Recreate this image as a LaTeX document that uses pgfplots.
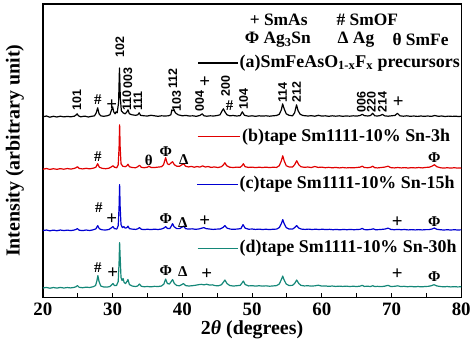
\documentclass[border=0pt]{standalone}
\usepackage{pgfplots}
\pgfplotsset{compat=1.18}
\usepackage{fontspec}
\setmainfont{Liberation Serif}
\newfontfamily\hklfont{Liberation Sans}
\definecolor{cA}{RGB}{0,0,0}
\definecolor{cB}{RGB}{225,0,0}
\definecolor{cC}{RGB}{0,0,210}
\definecolor{cD}{RGB}{20,135,120}
\newcommand{\labf}{\fontsize{20}{22}\selectfont\bfseries}
\newcommand{\tickf}{\fontsize{19}{21}\selectfont\bfseries}
\newcommand{\legf}{\fontsize{18}{20}\selectfont\bfseries}
\newcommand{\keyf}{\fontsize{17.5}{19}\selectfont\bfseries}
\newcommand{\mkf}{\fontsize{15}{16}\selectfont\bfseries}
\newcommand{\plusf}{\fontsize{19}{20}\selectfont\bfseries}
\begin{document}
\begin{tikzpicture}
\begin{axis}[name=ax,
  scale only axis, width=419bp, height=294bp,
  xmin=20, xmax=80, ymin=0, ymax=294,
  axis line style={line width=1.4pt},
  xtick={20,30,...,80}, minor x tick num=1,
  major tick length=5bp, minor tick length=4.5bp,
  tick style={line width=1.1pt, black},
  xtick pos=bottom, ytick=\empty,
  /pgf/number format/assume math mode=true,
  xticklabel style={font=\tickf, yshift=-2bp},
  xlabel={2\textit{θ} (degrees)},
  xlabel style={font=\labf, yshift=2bp},
  ylabel={Intensity (arbitrary unit)},
  every axis y label/.style={at={(axis description cs:-0.067,0.5)},rotate=90,anchor=center,font=\labf},
  clip=false,
  every axis plot/.append style={line width=1.2pt, line join=round},
]
\addplot[cA] coordinates {(20,181)(20.5,181.8)(21,180.6)(21.5,181.5)(22,180.8)(22.5,181.6)(23,180.9)(23.5,181.4)(24,181)(24.5,181.6)(24.7,182.5)(24.9,184)(25.1,182)(25.4,181)(26,181.7)(26.5,180.8)(27,181.5)(27.4,182)(27.65,185)(27.85,190)(28.05,184)(28.3,182)(28.7,181.5)(29.2,182)(29.6,183)(29.85,188)(30.0,191)(30.15,186)(30.35,184)(30.5,186)(30.65,185)(30.85,195)(30.98,230)(31.1,200)(31.25,187)(31.5,185)(31.8,184)(32.05,186)(32.2,188)(32.4,184)(32.8,183)(33.3,182.5)(33.6,183)(33.8,185)(34,182.5)(34.5,182)(35,181.8)(35.5,182.5)(36,182)(36.5,181.5)(37,182)(37.5,181.8)(38,182)(38.35,183)(38.5,188)(38.65,187)(38.8,188)(39,185)(39.4,183)(40,182)(40.5,182.4)(41,181.8)(41.5,182)(42,181.5)(42.5,182.3)(42.85,184)(43.1,182)(43.5,181.6)(44,182)(44.5,181.8)(45,182.3)(45.4,183)(45.7,187)(45.9,189)(46.1,186)(46.4,183)(46.8,182)(47.3,182.3)(47.8,181.8)(48.3,182.2)(48.6,186)(48.9,182.5)(49.5,181.6)(50,182)(50.5,181.5)(51,182)(51.5,181.7)(52,182)(52.5,181.6)(53,182)(53.5,182.3)(53.9,183.5)(54.2,188)(54.38,194)(54.6,189)(54.9,184)(55.3,182.5)(55.8,182)(56.1,185)(56.38,193)(56.6,187)(56.9,183.5)(57.3,182.3)(58,181.8)(58.5,182.1)(59,181.6)(59.5,182.5)(60,181.7)(60.5,182)(61,181.5)(61.5,182)(62,181.6)(62.5,182)(63,181.5)(63.5,181.9)(64,181.6)(64.5,182)(65,181.7)(65.5,182.3)(65.8,183.5)(66.1,182.2)(66.6,181.8)(67.0,182.3)(67.3,184.5)(67.6,182)(68,181.8)(68.4,182.3)(68.7,183.5)(69,182)(69.5,181.6)(70,182)(70.5,182.4)(70.85,184.5)(71.2,182)(71.7,181.6)(72.2,182)(72.7,181.5)(73.2,181.8)(73.7,181.4)(74.2,181.8)(74.7,181.5)(75.2,181.8)(75.7,181.4)(76.2,182.3)(76.7,181.5)(77.2,181.8)(77.7,181.3)(78.2,181.7)(78.7,181.4)(79.2,181.6)(79.6,181.3)(80,181.5)};
\addplot[cB] coordinates {(20,128.5)(20.5,129.2)(21,128.3)(21.5,129)(22,128.4)(22.5,129.1)(23,128.5)(23.5,129.2)(24,128.6)(24.5,129.3)(24.75,130)(24.95,131)(25.2,129.3)(25.7,128.8)(26.2,129.4)(26.7,128.9)(27.2,129.5)(27.6,130.5)(27.85,134)(28.1,130.5)(28.5,129.4)(29,129)(29.5,129.6)(29.85,131)(30.05,132)(30.25,130.5)(30.6,130)(30.8,133)(30.92,150)(31.0,173)(31.08,150)(31.2,134)(31.45,131.5)(31.8,131)(32.05,132)(32.2,133.5)(32.4,131)(32.8,130.2)(33.3,130)(33.6,131)(33.85,132.5)(34.1,130.5)(34.5,130)(35,130.5)(35.2,131.5)(35.5,130.3)(36,130.2)(36.5,130.6)(37,131)(37.3,133)(37.6,140)(37.85,134)(38.1,133)(38.4,135)(38.6,136)(38.85,133)(39.2,131.5)(39.6,131.5)(39.95,133)(40.2,134)(40.45,131.5)(40.9,130.8)(41.3,131.3)(41.7,130.5)(42.1,131.2)(42.5,130.6)(42.9,131.8)(43.3,130.7)(43.7,131.2)(44.1,130.3)(44.6,130.8)(45.1,130.2)(45.6,131)(45.9,133)(46.1,135)(46.35,132)(46.8,130.5)(47.3,130.2)(47.8,130.6)(48.3,130.4)(48.55,132)(48.75,134)(49,131)(49.5,130.3)(50,130.6)(50.5,130.1)(51,130.5)(51.5,130.2)(52,130.6)(52.5,130.1)(53,130.5)(53.5,130.3)(53.9,132)(54.2,137)(54.4,142)(54.6,137)(54.9,132)(55.3,130.8)(55.8,130.7)(56.1,133)(56.4,137)(56.7,133)(57,131)(57.5,130.4)(58,130.7)(58.5,130.2)(59,131.2)(59.5,130.3)(60,130.6)(60.5,130)(61,130.4)(61.5,129.9)(62,130.3)(62.5,129.8)(63,130.2)(63.5,129.8)(64,130.1)(64.5,129.9)(65,130.2)(65.5,130.6)(65.8,131.5)(66.1,130.2)(66.6,130)(67,130.4)(67.3,131.5)(67.6,130)(68,129.8)(68.5,130.2)(69,130.6)(69.5,131.5)(69.9,130.1)(70.4,129.8)(70.9,130.2)(71.4,129.8)(71.9,130.1)(72.4,129.7)(72.9,130.1)(73.4,129.8)(73.9,130.2)(74.4,129.8)(74.9,130.3)(75.4,130.5)(75.8,131.5)(76.15,133)(76.5,131)(77,130)(77.5,129.6)(78,130)(78.5,129.6)(79,130)(79.5,129.6)(80,129.8)};
\addplot[cC] coordinates {(20,67)(20.5,67.6)(21,66.8)(21.5,67.5)(22,66.9)(22.5,67.6)(23,67)(23.5,67.5)(24,67)(24.5,67.6)(24.75,68.2)(24.95,69)(25.2,67.4)(25.7,67)(26.2,67.6)(26.7,67.1)(27.2,67.8)(27.6,68.8)(27.85,72)(28.1,68.8)(28.5,67.8)(29,67.6)(29.5,68.2)(29.85,70)(30.05,71)(30.25,69)(30.6,68.6)(30.8,72)(30.92,90)(31.0,113)(31.08,90)(31.2,73)(31.4,70)(31.6,71)(31.8,69.5)(32.05,70)(32.2,71.5)(32.4,69)(32.8,68.5)(33.3,68.2)(33.6,68.8)(33.85,70)(34.1,68.4)(34.5,68)(35,68.4)(35.5,68)(36,68.5)(36.5,68.1)(37,68.6)(37.35,69.5)(37.6,71)(37.85,69.2)(38.2,69)(38.45,72)(38.6,74)(38.8,71)(39.2,69)(39.6,69)(39.95,70.5)(40.2,71.5)(40.45,69)(40.9,68.5)(41.4,68.8)(41.9,68.3)(42.4,68.7)(42.8,69.5)(43.1,70)(43.4,69)(43.9,68.6)(44.4,68.2)(44.9,68.5)(45.4,68.6)(45.8,70)(46.1,72)(46.4,69.5)(46.9,68.5)(47.4,68.3)(47.9,68.6)(48.4,69)(48.7,73)(49,69.5)(49.5,68.4)(50,68.6)(50.5,68.2)(51,68.5)(51.5,68.1)(52,68.4)(52.5,68)(53,68.4)(53.5,68.5)(53.9,70)(54.2,74)(54.4,78)(54.6,74)(54.9,70)(55.3,68.6)(55.8,68.5)(56.1,70)(56.4,72)(56.7,69.5)(57.1,68.5)(57.6,68.2)(58.1,68.5)(58.6,68.1)(59.1,68.4)(59.6,68.1)(60.1,68.4)(60.6,68)(61.1,68.3)(61.6,67.9)(62.1,68.2)(62.6,67.8)(63.1,68.2)(63.6,67.9)(64.1,68.2)(64.6,67.9)(65.1,68.1)(65.5,68.3)(65.8,69.2)(66.1,68)(66.6,67.9)(67.1,68.3)(67.4,68.8)(67.7,67.9)(68.2,68)(68.7,68.3)(69.1,68.6)(69.5,69.5)(69.9,68.2)(70.4,67.9)(70.9,68.2)(71.4,67.9)(71.9,68.1)(72.4,67.7)(72.9,68)(73.4,67.7)(73.9,68)(74.4,67.7)(74.9,68)(75.4,68)(75.8,68.6)(76.15,69.6)(76.5,68.3)(77,67.9)(77.5,67.6)(78,67.9)(78.5,67.6)(79,67.9)(79.5,67.6)(80,67.8)};
\addplot[cD] coordinates {(20,9.5)(20.5,10.1)(21,9.3)(21.5,10)(22,9.4)(22.5,10.1)(23,9.5)(23.5,10)(24,9.6)(24.5,10.2)(24.75,10.8)(24.95,12)(25.2,10.2)(25.7,9.8)(26.2,10.4)(26.7,10)(27.2,10.8)(27.55,12)(27.75,17)(27.88,22)(28.05,16)(28.3,11.5)(28.7,10.6)(29.2,10.4)(29.6,11)(29.9,13)(30.05,14)(30.25,12)(30.55,12)(30.8,16)(30.92,35)(31.0,55)(31.08,40)(31.2,20)(31.35,17)(31.5,19)(31.65,15)(31.85,14)(32.05,16)(32.2,18)(32.4,13)(32.8,11.5)(33.3,11)(33.6,11.6)(33.85,13.5)(34.1,11.3)(34.5,10.8)(35,11)(35.5,10.7)(36,11.2)(36.5,11)(37,11.5)(37.35,13.5)(37.6,18.5)(37.85,14)(38.15,13.5)(38.4,16)(38.6,18)(38.85,14)(39.2,12)(39.6,11.8)(39.95,13)(40.15,14)(40.45,12)(40.9,11.5)(41.4,11.8)(41.9,12.3)(42.3,12.8)(42.7,13.2)(43.1,12.7)(43.5,13.3)(43.9,12.4)(44.3,12.7)(44.7,11.9)(45.2,11.8)(45.6,12.8)(45.85,15)(46.1,17.5)(46.4,14)(46.8,12)(47.3,11.5)(47.8,11.8)(48.3,12.2)(48.55,14.5)(48.75,16.5)(49,13)(49.5,11.6)(50,11.9)(50.5,11.4)(51,11.8)(51.5,11.4)(52,11.7)(52.5,11.3)(53,11.6)(53.5,11.9)(53.9,13.5)(54.2,18)(54.4,21.5)(54.6,17.5)(54.9,13.5)(55.3,12)(55.8,12.2)(56.1,14)(56.4,17.5)(56.7,14)(57,12.2)(57.5,11.6)(58,11.8)(58.5,11.4)(59,11.7)(59.5,12.3)(60,11.4)(60.5,11.6)(61,11.2)(61.5,11.5)(62,11.1)(62.5,11.4)(63,11.1)(63.5,11.4)(64,11)(64.5,11.3)(65,11)(65.5,11.4)(65.8,12.2)(66.1,11.1)(66.6,11.3)(67,11)(67.3,11.8)(67.6,11)(68,11.2)(68.5,10.9)(69,11.3)(69.5,12.2)(69.9,11)(70.4,11.2)(70.9,11.7)(71.3,11)(71.8,11.2)(72.3,10.8)(72.8,11.1)(73.3,10.7)(73.8,11)(74.3,10.7)(74.8,11)(75.3,11.2)(75.7,11.8)(76.1,12.8)(76.5,11.6)(77,11)(77.5,10.7)(78,11)(78.5,10.6)(79,10.9)(79.5,10.6)(80,10.8)};
% legend-like labels
\draw[cA, line width=1.3pt] (42.3,235) -- (47.93,235);
\node[anchor=west, inner sep=0, font=\legf] at (48.2,235) {(a)SmFeAsO\textsubscript{1-x}F\textsubscript{x} precursors};
\draw[cB, line width=1.3pt] (42.2,161) -- (48.2,161);
\node[anchor=west, inner sep=0, font=\legf] at (48.55,161) {(b)tape Sm1111-10\% Sn-3h};
\draw[cC, line width=1.3pt] (42.1,113) -- (47.93,113);
\node[anchor=west, inner sep=0, font=\legf] at (48.2,113) {(c)tape Sm1111-10\% Sn-15h};
\draw[cD, line width=1.3pt] (42.2,49) -- (47.93,49);
\node[anchor=west, inner sep=0, font=\legf] at (48.2,49) {(d)tape Sm1111-10\% Sn-30h};
% phase key
\node[anchor=west, inner sep=0, font=\keyf] at (49.64,278) {+ SmAs};
\node[anchor=west, inner sep=0, font=\keyf] at (62.10,278) {\# SmOF};
\node[anchor=west, inner sep=0, font=\keyf] at (48.93,258) {Φ Ag\textsubscript{3}Sn};
\node[anchor=west, inner sep=0, font=\keyf] at (62.25,258) {Δ Ag};
\node[anchor=west, inner sep=0, font=\keyf] at (70.12,258) {θ SmFe};
% hkl labels
\tikzset{hkl/.style={rotate=90, anchor=west, inner sep=0, font=\hklfont\bfseries\fontsize{12.5}{12.5}\selectfont}}
\node[hkl] at (24.87,187) {101};
\node[hkl] at (32.03,187) {110};
\node[hkl] at (32.17,209) {003};
\node[hkl] at (31.03,240) {102};
\node[hkl] at (33.60,187) {111};
\node[hkl] at (39.19,186) {103};
\node[hkl] at (38.62,209) {112};
\node[hkl] at (42.48,186) {004};
\node[hkl] at (46.21,201) {200};
\node[hkl] at (48.78,188) {104};
\node[hkl] at (54.37,195) {114};
\node[hkl] at (56.37,195) {212};
\node[hkl] at (65.68,185) {006};
\node[hkl] at (67.11,185) {220};
\node[hkl] at (68.69,185) {214};
\tikzset{mk/.style={inner sep=0, font=\mkf}, mkp/.style={inner sep=0, font=\plusf}}
\node[mk] at (27.88,198) {\#};
\node[mkp] at (29.88,193) {+};
\node[mkp] at (43.2,216) {+};
\node[mk] at (46.78,192) {\#};
\node[mkp] at (70.98,196) {+};
% red
\node[mk] at (27.88,141) {\#};
\node[mk] at (35.18,137) {θ};
\node[mk] at (37.61,146) {Φ};
\node[mk] at (40.19,138) {Δ};
\node[mk] at (76.14,140) {Φ};
% blue
\node[mk] at (28.02,90) {\#};
\node[mkp] at (29.88,78) {+};
\node[mk] at (37.61,79) {Φ};
\node[mk] at (40.05,75) {Δ};
\node[mkp] at (43.2,76) {+};
\node[mkp] at (70.84,75) {+};
\node[mk] at (76.14,76) {Φ};
% teal
\node[mk] at (27.88,30) {\#};
\node[mkp] at (30.02,24) {+};
\node[mk] at (37.61,27) {Φ};
\node[mk] at (40.05,26) {Δ};
\node[mkp] at (43.49,23) {+};
\node[mkp] at (70.84,23) {+};
\node[mk] at (76.14,21) {Φ};
\end{axis}
\path ([shift={(-43bp,-52bp)}]ax.south west) rectangle ([shift={(12bp,4bp)}]ax.north east);
\end{tikzpicture}
\end{document}
